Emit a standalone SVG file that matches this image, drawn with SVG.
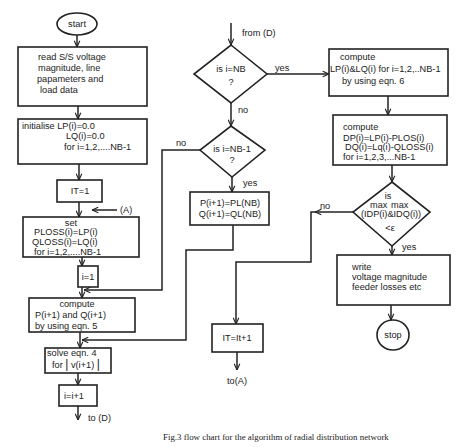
<svg xmlns="http://www.w3.org/2000/svg" width="474" height="447" viewBox="0 0 474 447">
<defs>
<marker id="arr" viewBox="0 0 10 10" refX="10" refY="5" markerWidth="7" markerHeight="7" markerUnits="userSpaceOnUse" orient="auto">
<path d="M1,1 L10,5 L1,9" fill="none" stroke="#222" stroke-width="1.6"/>
</marker>
<style>
.box{fill:#fff;stroke:#222;stroke-width:1.6}
.t{font-family:"Liberation Sans",Arial,sans-serif;font-size:9.2px;fill:#222}
.c{text-anchor:middle}
.ln{fill:none;stroke:#222;stroke-width:1.5}
.cap{font-family:"Liberation Serif","Times New Roman",serif;font-size:8.9px;fill:#222}
</style>
</defs>
<rect width="474" height="447" fill="#fff"/>

<g id="connectors">
<path class="ln" d="M77,35 V47" marker-end="url(#arr)"/>
<path class="ln" d="M78,106 V119" marker-end="url(#arr)"/>
<path class="ln" d="M79,164 V180" marker-end="url(#arr)"/>
<path class="ln" d="M79,202 V217" marker-end="url(#arr)"/>
<path class="ln" d="M117,210 H92" marker-end="url(#arr)"/>
<path class="ln" d="M82,257 V266" marker-end="url(#arr)"/>
<path class="ln" d="M82,287 V298" marker-end="url(#arr)"/>
<path class="ln" d="M200,150 H162 V290 H84" marker-end="url(#arr)"/>
<path class="ln" d="M80,332 V348" marker-end="url(#arr)"/>
<path class="ln" d="M233,225 V250 H186 V340 H82" marker-end="url(#arr)"/>
<path class="ln" d="M78,373 V385" marker-end="url(#arr)"/>
<path class="ln" d="M78,406 V420" marker-end="url(#arr)"/>
<path class="ln" d="M231,23 V45" marker-end="url(#arr)"/>
<path class="ln" d="M231,103 V126" marker-end="url(#arr)"/>
<path class="ln" d="M232,177 V192" marker-end="url(#arr)"/>
<path class="ln" d="M267,74 H329" marker-end="url(#arr)"/>
<path class="ln" d="M388,96 V115" marker-end="url(#arr)"/>
<path class="ln" d="M392,165 V182" marker-end="url(#arr)"/>
<path class="ln" d="M353,212 H315" marker-end="url(#arr)"/>
<path class="ln" d="M316,212 H311 V262 H236 V324" marker-end="url(#arr)"/>
<path class="ln" d="M392,246 V255" marker-end="url(#arr)"/>
<path class="ln" d="M391,305 V320" marker-end="url(#arr)"/>
<path class="ln" d="M237,352 V370" marker-end="url(#arr)"/>
</g>

<g id="start">
<ellipse class="box" cx="77" cy="24" rx="20" ry="11"/>
<text class="t c" x="77" y="27">start</text>
</g>
<g id="read">
<rect class="box" x="18" y="47" width="129" height="59"/>
<text class="t" x="38" y="60">read S/S voltage</text>
<text class="t" x="38" y="71">magnitude, line</text>
<text class="t" x="37" y="82">papameters and</text>
<text class="t" x="40" y="93">load data</text>
</g>
<g id="init">
<rect class="box" x="18" y="119" width="129" height="45"/>
<text class="t" x="22" y="129">initialise LP(i)=0.0</text>
<text class="t" x="66" y="139">LQ(i)=0.0</text>
<text class="t" x="64" y="150">for i=1,2,....NB-1</text>
</g>
<g id="it1">
<rect class="box" x="57" y="180" width="45" height="22"/>
<text class="t c" x="80" y="194">IT=1</text>
</g>
<g id="labelA">
<text class="t" x="120" y="213">(A)</text>
</g>
<g id="set">
<rect class="box" x="23" y="217" width="116" height="40"/>
<text class="t c" x="71" y="226">set</text>
<text class="t" x="34" y="235">PLOSS(i)=LP(i)</text>
<text class="t" x="32" y="245">QLOSS(i)=LQ(i)</text>
<text class="t" x="34" y="255">for i=1,2,....NB-1</text>
</g>
<g id="i1">
<rect class="box" x="78" y="266" width="20" height="21"/>
<text class="t c" x="88" y="280">i=1</text>
</g>
<g id="computeP">
<rect class="box" x="29" y="298" width="106" height="34"/>
<text class="t c" x="77" y="307">compute</text>
<text class="t" x="35" y="318">P(i+1) and Q(i+1)</text>
<text class="t" x="35" y="329">by using eqn. 5</text>
</g>
<g id="solve">
<rect class="box" x="45" y="348" width="66" height="25"/>
<text class="t" x="47" y="356">solve eqn. 4</text>
<text class="t" x="52" y="368">for <tspan font-size="12">|</tspan> v(i+1) <tspan font-size="12">|</tspan></text>
</g>
<g id="inc">
<rect class="box" x="59" y="385" width="38" height="21"/>
<text class="t" x="64" y="399">i=i+1</text>
</g>
<g id="toD">
<text class="t" x="88" y="421">to (D)</text>
</g>
<g id="fromD">
<text class="t" x="242" y="36">from (D)</text>
</g>
<g id="dNB">
<polygon class="box" points="231,45 267,74 231,103 194,74"/>
<text class="t c" x="231" y="72">is i=NB</text>
<text class="t c" x="231" y="85">?</text>
<text class="t" x="275" y="71">yes</text>
<text class="t" x="238" y="113">no</text>
</g>
<g id="dNB1">
<polygon class="box" points="231,126 265,150 232,177 200,150"/>
<text class="t c" x="232" y="152">is i=NB-1</text>
<text class="t c" x="232" y="163">?</text>
<text class="t" x="176" y="146">no</text>
<text class="t" x="243" y="186">yes</text>
</g>
<g id="pl">
<rect class="box" x="190" y="192" width="79" height="33"/>
<text class="t c" x="230" y="206">P(i+1)=PL(NB)</text>
<text class="t c" x="230" y="217">Q(i+1)=QL(NB)</text>
</g>
<g id="itinc">
<rect class="box" x="212" y="324" width="51" height="28"/>
<text class="t c" x="237" y="341">IT=It+1</text>
</g>
<g id="toA">
<text class="t c" x="237" y="384">to(A)</text>
</g>
<g id="computeLP">
<rect class="box" x="329" y="49" width="119" height="47"/>
<text class="t" x="340" y="60">compute</text>
<text class="t" x="330" y="72" font-size="8.8">LP(i)&amp;LQ(i) for i=1,2,..NB-1</text>
<text class="t" x="342" y="84">by using eqn. 6</text>
</g>
<g id="computeD">
<rect class="box" x="333" y="115" width="114" height="50"/>
<text class="t" x="343" y="130">compute</text>
<text class="t" x="343" y="141" font-size="8">DP(i)=LP(i)-PLOS(i)</text>
<text class="t" x="345" y="150" font-size="8">DQ(i)=Lq(i)-QLOSS(i)</text>
<text class="t" x="343" y="160" font-size="8">for i=1,2,3,...NB-1</text>
</g>
<g id="dEps">
<polygon class="box" points="392,182 430,212 392,246 353,212"/>
<text class="t c" x="388" y="199" font-size="6.5">is</text>
<text class="t" x="370" y="208" font-size="6.5">max</text>
<text class="t" x="391" y="208" font-size="6.5">max</text>
<text class="t c" x="391" y="217" font-size="8">(IDP(i)&amp;IDQ(i))</text>
<text class="t c" x="390" y="231" font-size="8">&lt;ε</text>
<text class="t" x="320" y="209">no</text>
<text class="t" x="402" y="250">yes</text>
</g>
<g id="write">
<rect class="box" x="337" y="255" width="113" height="50"/>
<text class="t" x="352" y="270">write</text>
<text class="t" x="352" y="280">voltage magnitude</text>
<text class="t" x="352" y="290">feeder losses etc</text>
</g>
<g id="stop">
<ellipse class="box" cx="393" cy="335" rx="16" ry="15"/>
<text class="t c" x="393" y="338">stop</text>
</g>
<text class="cap" x="163" y="440">Fig.3 flow chart for the algorithm of radial distribution network</text>
</svg>
